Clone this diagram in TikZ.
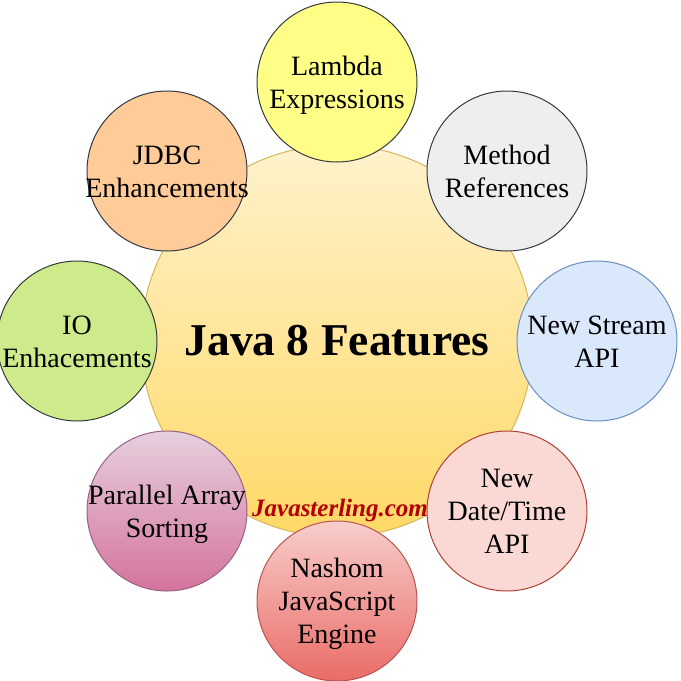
\documentclass[tikz,border=0pt]{standalone}
\usepackage{fontspec}
\setmainfont{Liberation Serif}
\definecolor{darkline}{HTML}{36393D}
\definecolor{sitered}{HTML}{B20000}
\newcommand{\ftext}[1]{\makebox[0pt]{\raisebox{-3pt}[\height][\depth]{\begin{tabular}{@{}c@{}}#1\end{tabular}}}}
\begin{document}
\begin{tikzpicture}[x=1pt,y=-1pt,
  feature/.style={circle,draw=darkline,line width=1pt,minimum size=160pt,inner sep=0pt,
    font=\fontsize{28}{33}\selectfont}]
\useasboundingbox (0,0) rectangle (681,681);
\node[circle,draw={rgb,255:red,214;green,182;blue,86},line width=1pt,minimum size=392pt,
  top color={rgb,255:red,255;green,242;blue,204},bottom color={rgb,255:red,255;green,217;blue,102},
  font=\fontsize{45.5}{54}\bfseries\selectfont] (features) at (337,341) {Java 8 Features};
\node[feature,fill={rgb,255:red,255;green,255;blue,136}] (lambda) at (337,82) {\ftext{Lambda\\Expressions}};
\node[feature,fill={rgb,255:red,238;green,238;blue,238}] (methodref) at (507,171) {\ftext{Method\\References}};
\node[feature,draw={rgb,255:red,108;green,142;blue,191},fill={rgb,255:red,218;green,232;blue,252}] (stream) at (597,341) {\ftext{New Stream\\API}};
\node[feature,draw={rgb,255:red,174;green,65;blue,50},fill={rgb,255:red,250;green,217;blue,213}] (datetime) at (507,511) {\ftext{New\\Date/Time\\API}};
\node[feature,draw={rgb,255:red,184;green,84;blue,80},top color={rgb,255:red,248;green,206;blue,204},
  bottom color={rgb,255:red,234;green,107;blue,102}] (nashom) at (337,601) {\ftext{Nashom\\JavaScript\\Engine}};
\node[feature,draw={rgb,255:red,153;green,97;blue,133},top color={rgb,255:red,230;green,208;blue,222},
  bottom color={rgb,255:red,213;green,115;blue,157}] (parallel) at (167,511) {\ftext{Parallel Array\\Sorting}};
\node[feature,fill={rgb,255:red,205;green,235;blue,139}] (io) at (77,341) {\ftext{IO\\Enhacements}};
\node[feature,fill={rgb,255:red,255;green,204;blue,153}] (jdbc) at (167,171) {\ftext{JDBC\\Enhancements}};
\node[text=sitered,font=\fontsize{25}{30}\selectfont\bfseries\itshape] (site) at (340,510) {Javasterling.com};
\end{tikzpicture}
\end{document}
